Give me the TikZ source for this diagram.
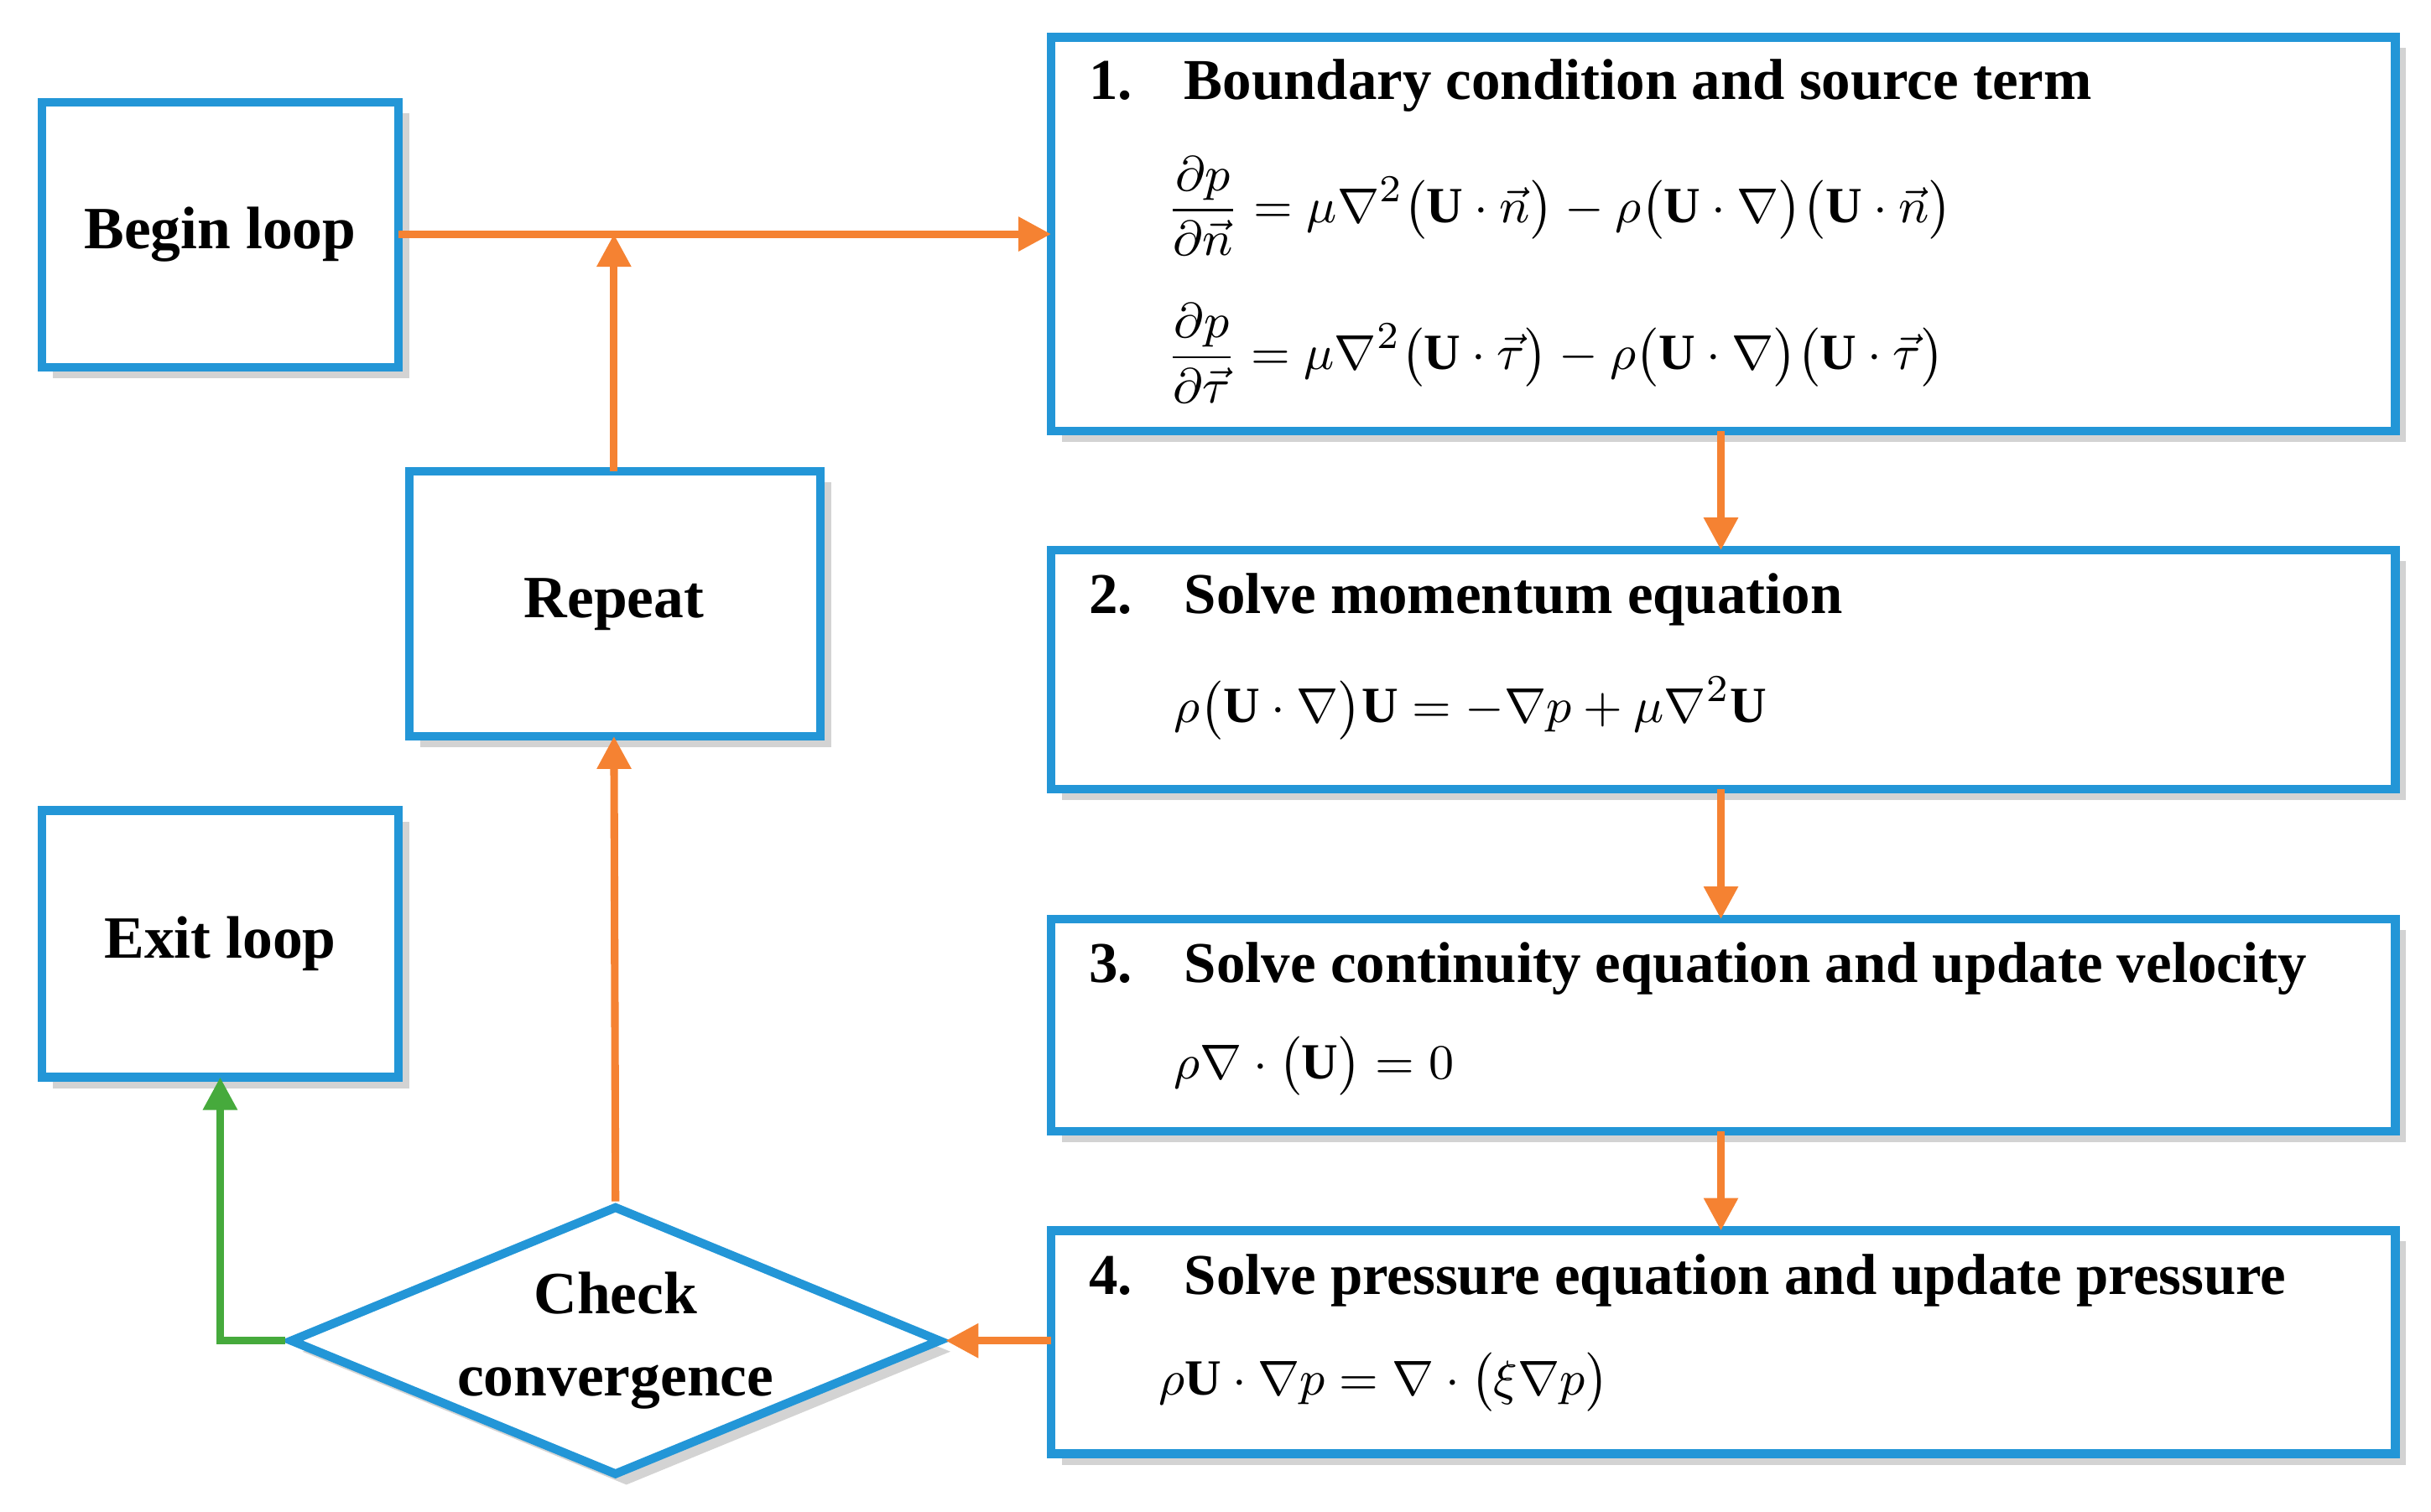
\documentclass[tikz,border=0pt]{standalone}
\usepackage{amsmath}
\usepackage{fontspec}
\setmainfont{Liberation Serif}
\usetikzlibrary{shapes.geometric,shadows,arrows.meta}
\definecolor{bl}{RGB}{35,150,215}
\definecolor{org}{RGB}{245,130,50}
\definecolor{grn}{RGB}{70,170,60}
\begin{document}
\begin{tikzpicture}[x=0.01cm,y=-0.01cm,
  box/.style={draw=bl,line width=1.6pt,fill=white,drop shadow={opacity=0.35,shadow xshift=2pt,shadow yshift=-2pt}},
  lbl/.style={font=\fontsize{11}{13}\selectfont\bfseries},
  ttl/.style={anchor=west,font=\fontsize{10.6}{13}\selectfont\bfseries},
  eq/.style={anchor=west,font=\fontsize{9.3}{11}\selectfont},
  oa/.style={draw=org,line width=1.4pt,-{Triangle[length=6pt,width=6pt]}},
  ga/.style={draw=grn,line width=1.4pt,-{Triangle[length=6pt,width=6pt]}}]
\useasboundingbox (0,0) rectangle (1568,975);
\draw[box] (27,66) rectangle (257,237);
\node[lbl] (begin) at (142,151) {Begin loop};
\draw[box] (264,304) rectangle (529,475);
\node[lbl] (rep) at (396,390) {Repeat};
\draw[box] (27,523) rectangle (257,695);
\node[lbl] (exit) at (142,609) {Exit loop};
\node[diamond,box,minimum width=4.2cm,minimum height=1.74cm,inner sep=0pt] (chk) at (397,865) {};
\node[lbl,align=center] at (397,865) {Check\\[2pt]convergence};
\draw[box] (678,24) rectangle (1545,278);
\draw[box] (678,355) rectangle (1545,509);
\draw[box] (678,593) rectangle (1545,730);
\draw[box] (678,794) rectangle (1545,938);
\coordinate (b1w) at (678,151); \coordinate (b1s) at (1110,278);
\coordinate (b2n) at (1110,355); \coordinate (b2s) at (1110,509);
\coordinate (b3n) at (1110,593); \coordinate (b3s) at (1110,730);
\coordinate (b4n) at (1110,794); \coordinate (b4w) at (678,865);
\coordinate (j) at (396,151); \coordinate (rs) at (396,475); \coordinate (rn) at (396,304);
\coordinate (eb) at (142,695);
\node[ttl] (t1) at (690,55) {1.\hspace{0.9em}Boundary condition and source term};
\node[eq] (e1) at (740,133) {$\dfrac{\partial p}{\partial\vec n}=\mu\nabla^2\big(\mathbf{U}\cdot\vec n\big)-\rho\big(\mathbf{U}\cdot\nabla\big)\big(\mathbf{U}\cdot\vec n\big)$};
\node[eq] (e1b) at (740,228) {$\dfrac{\partial p}{\partial\vec \tau}=\mu\nabla^2\big(\mathbf{U}\cdot\vec \tau\big)-\rho\big(\mathbf{U}\cdot\nabla\big)\big(\mathbf{U}\cdot\vec \tau\big)$};
\node[ttl] (t2) at (690,387) {2.\hspace{0.9em}Solve momentum equation};
\node[eq] (e2) at (745,457) {$\rho\big(\mathbf{U}\cdot\nabla\big)\mathbf{U}=-\nabla p+\mu\nabla^2\mathbf{U}$};
\node[ttl] (t3) at (690,625) {3.\hspace{0.9em}Solve continuity equation and update velocity};
\node[eq] (e3) at (745,688) {$\rho\nabla\cdot\big(\mathbf{U}\big)=0$};
\node[ttl] (t4) at (690,826) {4.\hspace{0.9em}Solve pressure equation and update pressure};
\node[eq] (e4) at (735,892) {$\rho\mathbf{U}\cdot\nabla p=\nabla\cdot\big(\xi\nabla p\big)$};
\draw[oa] (257,151) -- (b1w);
\draw[oa] (rn) -- (j);
\draw[oa] (b1s) -- (b2n);
\draw[oa] (b2s) -- (b3n);
\draw[oa] (b3s) -- (b4n);
\draw[oa] (b4w) -- (chk.east);
\draw[oa] (chk.north) -- (rs);
\draw[ga] (chk.west) -| (eb);
\end{tikzpicture}
\end{document}
